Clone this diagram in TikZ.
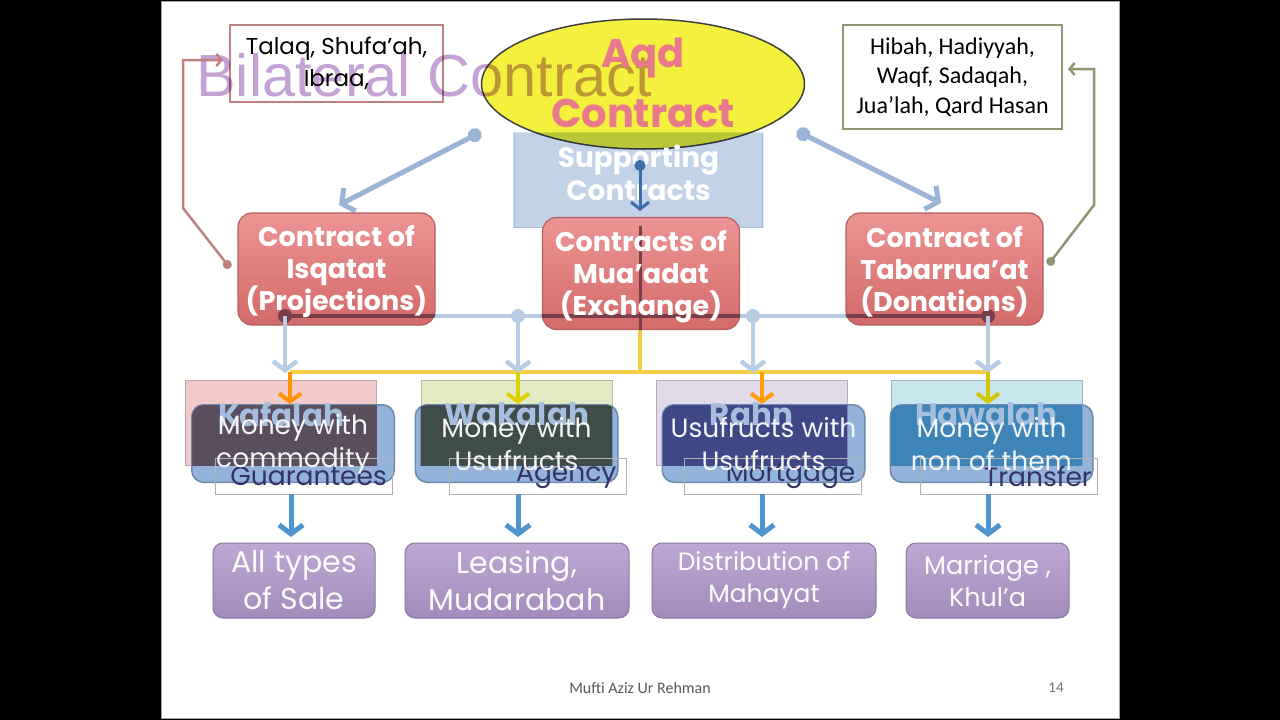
\documentclass[tikz,border=0pt]{standalone}
\usepackage{fontspec}
\setmainfont{Poppins}
\newfontfamily\calib{Carlito}
\newfontfamily\arialf{Liberation Sans}
\usetikzlibrary{arrows.meta,shapes.geometric,calc}
\definecolor{redtop}{HTML}{EC9494}
\definecolor{redbot}{HTML}{D36A6A}
\definecolor{redline}{HTML}{B46060}
\definecolor{purptop}{HTML}{BEA8D2}
\definecolor{purpbot}{HTML}{A38BBB}
\definecolor{purpline}{HTML}{8C76A4}
\definecolor{ellfill}{HTML}{F4F03E}
\definecolor{supfill}{HTML}{C2D3E8}
\definecolor{ltblue}{HTML}{B8CCE4}
\definecolor{midblue}{HTML}{9AB4D6}
\definecolor{darkblue}{HTML}{3E6EAA}
\definecolor{arrowblue}{HTML}{4F94CD}
\definecolor{yelline}{HTML}{F5CD45}
\definecolor{maroon}{HTML}{7A3E48}
\definecolor{bilat}{HTML}{C4A2D6}
\definecolor{aqdpink}{HTML}{E7798A}
\definecolor{talaqline}{HTML}{BE8080}
\definecolor{hibline}{HTML}{8E9672}
\definecolor{lbluebox}{HTML}{93B3DB}
\definecolor{lblueline}{HTML}{6E8CB0}
\definecolor{backtxt}{HTML}{A6BEDE}
\definecolor{kafback}{HTML}{F2CACA}
\definecolor{wakback}{HTML}{E4EBC4}
\definecolor{rahnback}{HTML}{E2DAE8}
\definecolor{hawback}{HTML}{C8E6EE}
\definecolor{kafdark}{HTML}{5A4E5E}
\definecolor{wakdark}{HTML}{3E4C4A}
\definecolor{rahndark}{HTML}{3E4886}
\definecolor{hawdark}{HTML}{3D84B8}
\begin{document}
\begin{tikzpicture}[x=1pt,y=-1pt,
  redbox/.style={rounded corners=14pt, draw=redline, line width=1.2pt,
    top color=redtop, bottom color=redbot, minimum width=197pt,
    minimum height=112pt, inner sep=0pt},
  redtxt/.style={text=white, font=\fontsize{27}{32}\selectfont\bfseries, align=center},
  purpbox/.style={rounded corners=10pt, draw=purpline, line width=1pt,
    top color=purptop, bottom color=purpbot, minimum height=75pt,
    inner sep=0pt, text={white!95!purptop}, align=center},
  backrect/.style={draw=#1!80!black, line width=0.8pt, fill=#1,
    minimum width=191pt, minimum height=85pt, inner sep=0pt},
  rbox/.style={rounded corners=12pt, draw=lblueline, line width=1pt,
    fill=lbluebox, minimum width=202pt, minimum height=77pt, inner sep=0pt},
  lblbox/.style={draw=gray!60, line width=0.8pt, minimum width=177pt,
    minimum height=36pt, inner sep=0pt},
  backlabel/.style={text=backtxt, font=\fontsize{31}{31}\selectfont\bfseries},
  moneytxt/.style={text=white!92!gray, font=\fontsize{26.5}{33}\selectfont, align=center},
  lbltxt/.style={text=black!75!blue!80, font=\fontsize{26.5}{26.5}\selectfont, anchor=east},
  toparrow/.style={draw=midblue, line width=5pt, {Circle[length=14pt]}-{Straight Barb[length=9pt,width=26pt]}},
  midarrow/.style={draw=ltblue, line width=4.5pt, -{Straight Barb[length=9pt,width=24pt]}},
  yelarrow/.style={draw=#1, line width=4pt, -{Straight Barb[length=8pt,width=22pt]}},
  botarrow/.style={draw=arrowblue, line width=5pt, -{Straight Barb[length=9pt,width=24pt]}}
]
\useasboundingbox (0,0) rectangle (1280,720);
\fill[black] (0,0) rectangle (1280,720);
\fill[white] (161,1) rectangle (1119,718);
\draw[gray!70, line width=1pt] (161,1) rectangle (1119,718);

% ---- top boxes
\node[draw=talaqline, line width=2pt, minimum width=213pt, minimum height=77pt,
  inner sep=0pt, align=center, font=\fontsize{23}{32}\selectfont] (talaq) at (336.5,63.5)
  {Talaq, Shufa’ah,\\ Ibraa,};
\node[draw=hibline, line width=2.5pt, minimum width=219pt, minimum height=104pt,
  inner sep=0pt, align=center, font=\calib\fontsize{24}{29.5}\selectfont] (hibah) at (952.5,77)
  {Hibah, Hadiyyah,\\ Waqf, Sadaqah,\\ Jua’lah, Qard Hasan};

% ---- ellipse
\node[ellipse, draw=black!75, line width=1.5pt, fill=ellfill, minimum width=323pt,
  minimum height=130pt, inner sep=0pt] (aqdell) at (643,84) {};

% ---- Bilateral contract (multiply)
\begin{scope}[blend mode=multiply]
\node[anchor=base west, inner sep=0pt, text=bilat,
  font=\arialf\fontsize{59.5}{59.5}\selectfont] (bil) at (196,96) {Bilateral Contract};
\end{scope}

% ---- Aqd Contract
\node[text=aqdpink, font=\fontsize{40}{40}\selectfont\bfseries, inner sep=0pt] (aqd) at (643,58) {Aqd};
\node[text=aqdpink, font=\fontsize{40}{40}\selectfont\bfseries, inner sep=0pt] (contr) at (643,113) {Contract};

% ---- supporting box
\begin{scope}[blend mode=multiply]
\node[draw=supfill!60!white, line width=1.5pt, fill=supfill,
  minimum width=249pt, minimum height=95pt, inner sep=0pt] (supp) at (638.5,180) {};
\end{scope}
\node[text=white, align=center, font=\fontsize{28}{33}\selectfont\bfseries] (suppt) at (638.5,173)
  {Supporting\\ Contracts};

% ---- top arrows
\coordinate (tlA) at (481,132);
\coordinate (tlB) at (339,205);
\coordinate (trA) at (797,131);
\coordinate (trB) at (941,203);
\coordinate (tcA) at (640,160);
\coordinate (tcB) at (640,211);
\draw[toparrow] (tlA) -- (tlB);
\draw[toparrow] (trA) -- (trB);
\draw[draw=darkblue, line width=3pt, {Circle[length=11pt]}-{Straight Barb[length=7pt,width=18pt]}] (tcA) -- (tcB);

% ---- connector lines behind red boxes
\coordinate (hl) at (285,316);
\coordinate (hm1) at (518,316);
\coordinate (hm2) at (753,316);
\coordinate (hr) at (988,316);
\coordinate (yv) at (640,226);
\coordinate (yj) at (640,372);
\coordinate (yl) at (290,372);
\coordinate (yr) at (988,372);
\draw[ltblue, line width=4.5pt] (hl) -- (hr);
\draw[yelline, line width=4.5pt] (yv) -- (yj);
\draw[yelline, line width=4.5pt] (yl) -- (yr);

% ---- red boxes
\node[redbox] (isq) at (336.5,269) {};
\node[redbox] (mua) at (641,273.5) {};
\node[redbox] (tab) at (944.5,269) {};

% dark line parts inside boxes
\begin{scope}
\clip[rounded corners=14pt] (isq.north west) rectangle (isq.south east);
\draw[maroon, line width=4.5pt] (hl) -- (hr);
\end{scope}
\begin{scope}
\clip[rounded corners=14pt] (mua.north west) rectangle (mua.south east);
\draw[maroon, line width=4.5pt] (hl) -- (hr);
\draw[maroon, line width=3pt] (yv) -- (yj);
\end{scope}
\begin{scope}
\clip[rounded corners=14pt] (tab.north west) rectangle (tab.south east);
\draw[maroon, line width=4.5pt] (hl) -- (hr);
\end{scope}
\fill[maroon] (hl) circle (7pt);
\fill[maroon] (hr) circle (7pt);
\fill[ltblue] (hm1) circle (7pt);
\fill[ltblue] (hm2) circle (7pt);

\node[redtxt] (isqt) at (336.5,272) {Contract of\\ Isqatat\\ (Projections)};
\node[redtxt] (muat) at (641,277) {Contracts of\\ Mua’adat\\ (Exchange)};
\node[redtxt] (tabt) at (944.5,272) {Contract of\\ Tabarrua’at\\ (Donations)};

% ---- left / right connectors
\coordinate (lc1) at (230,268);
\coordinate (lc2) at (183,208);
\coordinate (lc3) at (183,60);
\coordinate (lc4) at (223,60);
\draw[talaqline, line width=2.5pt, {Circle[length=9pt]}-{Straight Barb[length=5pt,width=12pt]}]
  (lc1) -- (lc2) -- (lc3) -- (lc4);
\coordinate (rc1) at (1048,265);
\coordinate (rc2) at (1094,205);
\coordinate (rc3) at (1094,69);
\coordinate (rc4) at (1068,69);
\draw[hibline, line width=2.5pt, {Circle[length=9pt]}-{Straight Barb[length=5pt,width=12pt]}]
  (rc1) -- (rc2) -- (rc3) -- (rc4);

% ---- middle arrows (light blue)
\coordinate (ma1) at (285,373);
\coordinate (ma2) at (518,373);
\coordinate (ma3) at (753,373);
\coordinate (ma4) at (988,373);
\draw[midarrow] (hl) -- (ma1);
\draw[midarrow] (hm1) -- (ma2);
\draw[midarrow] (hm2) -- (ma3);
\draw[midarrow] (hr) -- (ma4);

% ---- second level back rects
\node[backrect=kafback] (kaf) at (281,422.5) {};
\node[backrect=wakback] (wak) at (516.5,422.5) {};
\node[backrect=rahnback] (rahn) at (751.5,422.5) {};
\node[backrect=hawback] (haw) at (986.5,422.5) {};

% ---- yellow arrows
\coordinate (ya1) at (290,372);
\coordinate (ya2) at (518,372);
\coordinate (ya3) at (762,372);
\coordinate (ya4) at (988,372);
\coordinate (yb1) at (290,404);
\coordinate (yb2) at (518,404);
\coordinate (yb3) at (762,404);
\coordinate (yb4) at (988,404);
\draw[yelarrow=orange!85!yellow] (ya1) -- (yb1);
\draw[yelarrow=yellow!70!olive] (ya2) -- (yb2);
\draw[yelarrow=orange!75!yellow] (ya3) -- (yb3);
\draw[yelarrow=yellow!60!olive] (ya4) -- (yb4);

% ---- rounded boxes
\node[rbox] (kafr) at (293,443.5) {};
\node[rbox] (wakr) at (516.5,443.5) {};
\node[rbox] (rahnr) at (763.5,443.5) {};
\node[rbox] (hawr) at (991.5,443.5) {};
\begin{scope}
\clip (kaf.north west) rectangle (kaf.south east);
\fill[fill=kafdark, rounded corners=12pt] (kafr.north west) rectangle (kafr.south east);
\end{scope}
\begin{scope}
\clip (wak.north west) rectangle (wak.south east);
\fill[fill=wakdark, rounded corners=12pt] (wakr.north west) rectangle (wakr.south east);
\end{scope}
\begin{scope}
\clip (rahn.north west) rectangle (rahn.south east);
\fill[fill=rahndark, rounded corners=12pt] (rahnr.north west) rectangle (rahnr.south east);
\end{scope}
\begin{scope}
\clip (haw.north west) rectangle (haw.south east);
\fill[fill=hawdark, rounded corners=12pt] (hawr.north west) rectangle (hawr.south east);
\end{scope}
\draw[lblueline, line width=1pt, rounded corners=12pt] (kafr.north west) rectangle (kafr.south east);
\draw[lblueline, line width=1pt, rounded corners=12pt] (wakr.north west) rectangle (wakr.south east);
\draw[lblueline, line width=1pt, rounded corners=12pt] (rahnr.north west) rectangle (rahnr.south east);
\draw[lblueline, line width=1pt, rounded corners=12pt] (hawr.north west) rectangle (hawr.south east);

% back labels
\node[backlabel] (kaft) at (281,414) {Kafalah};
\node[backlabel] (wakt) at (516.5,414) {Wakalah};
\node[backlabel] (rahnt) at (751.5,414) {Rahn};
\node[backlabel] (hawt) at (986.5,414) {Hawalah};

% label boxes
\node[lblbox] (guar) at (303.5,476) {};
\node[lblbox] (agen) at (538,476) {};
\node[lblbox] (mort) at (773,476) {};
\node[lblbox] (trans) at (1008.5,476) {};
\node[lbltxt] (guart) at ($(guar.east)+(-2,0)$) {Guarantees};
\node[lbltxt] (agent) at ($(agen.east)+(-7,0)$) {Agency};
\node[lbltxt] (mortt) at ($(mort.east)+(-3,0)$) {Mortgage};
\node[lbltxt] (transt) at ($(trans.east)+(-2,0)$) {Transfer};

% money texts
\node[moneytxt] (m1) at (293,444) {Money with\\ commodity};
\node[moneytxt] (m2) at (516.5,444) {Money with\\ Usufructs};
\node[moneytxt] (m3) at (763.5,444) {Usufructs with\\ Usufructs};
\node[moneytxt] (m4) at (991.5,444) {Money with\\ non of them};

% ---- bottom arrows
\coordinate (ba1) at (291,494);
\coordinate (ba2) at (518,494);
\coordinate (ba3) at (762,494);
\coordinate (ba4) at (988,494);
\coordinate (bb1) at (291,537);
\coordinate (bb2) at (518,537);
\coordinate (bb3) at (762,537);
\coordinate (bb4) at (988,537);
\draw[botarrow] (ba1) -- (bb1);
\draw[botarrow] (ba2) -- (bb2);
\draw[botarrow] (ba3) -- (bb3);
\draw[botarrow] (ba4) -- (bb4);

% ---- purple boxes
\node[purpbox, minimum width=162pt, font=\fontsize{30}{37}\selectfont] (p1) at (294,580.5) {All types\\ of Sale};
\node[purpbox, minimum width=224pt, font=\fontsize{30}{37}\selectfont] (p2) at (517,580.5) {Leasing,\\ Mudarabah};
\node[purpbox, minimum width=224pt, font=\fontsize{25}{32}\selectfont] (p3) at (764,580.5) {Distribution of\\ Mahayat};
\node[purpbox, minimum width=163pt, font=\fontsize{25.5}{32}\selectfont] (p4) at (987.5,580.5) {Marriage ,\\ Khul’a};

% ---- footer
\node[text=black!65, font=\calib\fontsize{16}{16}\selectfont] (foot) at (640,688) {Mufti Aziz Ur Rehman};
\node[text=black!55, font=\calib\fontsize{15}{15}\selectfont] (pg) at (1056,688) {14};
\end{tikzpicture}
\end{document}
